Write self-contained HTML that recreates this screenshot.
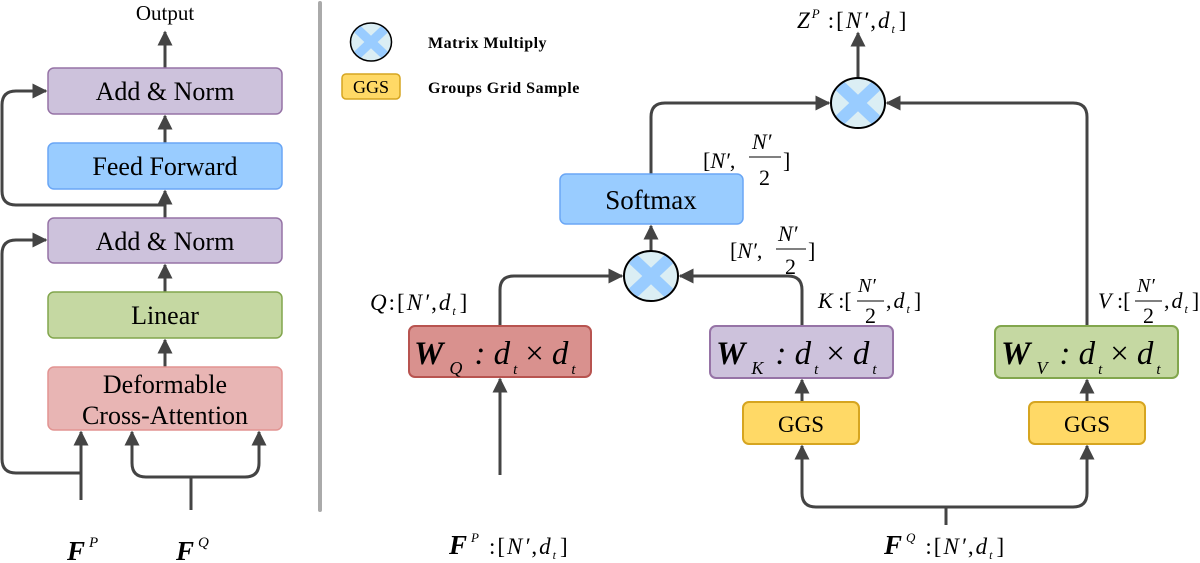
<!DOCTYPE html>
<html><head><meta charset="utf-8"><style>
html,body{margin:0;padding:0;background:#fff;width:1200px;height:563px;overflow:hidden}
text{font-family:"Liberation Serif",serif;fill:#000}
</style></head><body>
<svg width="1200" height="563" viewBox="0 0 1200 563" xmlns="http://www.w3.org/2000/svg">
<defs>
<marker id="a" viewBox="0 0 10 10" refX="9" refY="5" markerWidth="5" markerHeight="5" orient="auto" markerUnits="strokeWidth">
<path d="M0,0 L10,5 L0,10 z" fill="#444"/></marker>
<g id="mm">
<ellipse cx="0" cy="0" rx="27" ry="25" fill="#dbeef4"/>
<path d="M-18,-17 L18,17 M18,-17 L-18,17" stroke="#99ccff" stroke-width="12"/>
<ellipse cx="0" cy="0" rx="27" ry="25" fill="none" stroke="#000" stroke-width="2"/>
</g>
</defs>
<g fill="none" stroke="#444" stroke-width="3">
<path d="M165,68 V32" marker-end="url(#a)"/>
<path d="M165,143 V116" marker-end="url(#a)"/>
<path d="M165,218 V191" marker-end="url(#a)"/>
<path d="M165,292 V265" marker-end="url(#a)"/>
<path d="M165,367 V340" marker-end="url(#a)"/>
<path d="M165,205 H16 Q2,205 2,191 V105 Q2,91 16,91 H46" marker-end="url(#a)"/>
<path d="M81,473 H16 Q2,473 2,459 V254 Q2,240 16,240 H46" marker-end="url(#a)"/>
<path d="M81,500 V432" marker-end="url(#a)"/>
<path d="M191,510 V477 M191,477 H146 Q132,477 132,463 V432" marker-end="url(#a)"/>
<path d="M191,477 H245 Q259,477 259,463 V432" marker-end="url(#a)"/>
<path d="M858,78 V33" marker-end="url(#a)"/>
<path d="M651,174 V117 Q651,103 665,103 H829" marker-end="url(#a)"/>
<path d="M1087,326 V117 Q1087,103 1073,103 H887" marker-end="url(#a)"/>
<path d="M651,251 V226" marker-end="url(#a)"/>
<path d="M500,326 V290 Q500,276 514,276 H622" marker-end="url(#a)"/>
<path d="M802,326 V290 Q802,276 788,276 H680" marker-end="url(#a)"/>
<path d="M500,475 V379" marker-end="url(#a)"/>
<path d="M802,402 V380" marker-end="url(#a)"/>
<path d="M1087,402 V380" marker-end="url(#a)"/>
<path d="M946,525 V507 M946,507 H816 Q802,507 802,493 V446" marker-end="url(#a)"/>
<path d="M946,507 H1073 Q1087,507 1087,493 V446" marker-end="url(#a)"/>
</g>
<line x1="320" y1="3" x2="320" y2="510" stroke="#aaa" stroke-width="4" stroke-linecap="round"/>
<rect x="48" y="68" width="234" height="46" rx="6" fill="#cdc2dc" stroke="#9673a6" stroke-width="1.5"/>
<rect x="48" y="143" width="234" height="46" rx="6" fill="#99ccff" stroke="#6aa6f5" stroke-width="1.5"/>
<rect x="48" y="218" width="234" height="45" rx="6" fill="#cdc2dc" stroke="#9673a6" stroke-width="1.5"/>
<rect x="48" y="292" width="234" height="46" rx="6" fill="#c5d8a2" stroke="#82a64d" stroke-width="1.5"/>
<rect x="48" y="367" width="234" height="63" rx="6" fill="#e8b5b4" stroke="#e29492" stroke-width="1.5"/>
<g font-size="26" text-anchor="middle">
<text x="165" y="20" font-size="21">Output</text>
<text x="165" y="100">Add &amp; Norm</text>
<text x="165" y="175">Feed Forward</text>
<text x="165" y="250">Add &amp; Norm</text>
<text x="165" y="324">Linear</text>
<text x="165" y="393">Deformable</text>
<text x="165" y="424">Cross-Attention</text>
</g>
<text x="67" y="560" font-size="27" font-weight="bold" font-style="italic">F<tspan dy="-13" dx="4" font-size="15" font-weight="normal">P</tspan></text>
<text x="176" y="560" font-size="27" font-weight="bold" font-style="italic">F<tspan dy="-13" dx="4" font-size="15" font-weight="normal">Q</tspan></text>
<use href="#mm" transform="translate(371,42) scale(0.76)"/>
<rect x="342" y="74" width="58" height="25" rx="4" fill="#ffd966" stroke="#d6a520" stroke-width="1.5"/>
<text x="371" y="93" font-size="18" text-anchor="middle">GGS</text>
<text x="428" y="48" font-size="16" font-weight="bold" letter-spacing="0.5">Matrix Multiply</text>
<text x="428" y="93" font-size="16" font-weight="bold" letter-spacing="0.5">Groups Grid Sample</text>
<rect x="560" y="174" width="183" height="50" rx="6" fill="#99ccff" stroke="#6aa6f5" stroke-width="1.5"/>
<text x="651" y="209" font-size="27" text-anchor="middle">Softmax</text>
<rect x="409" y="326" width="182" height="51" rx="6" fill="#d9918e" stroke="#b85450" stroke-width="2"/>
<rect x="710" y="326" width="183" height="52" rx="6" fill="#cdc2dc" stroke="#9673a6" stroke-width="2"/>
<rect x="995" y="326" width="183" height="52" rx="6" fill="#c5d8a2" stroke="#82a64d" stroke-width="2"/>
<rect x="743" y="402" width="116" height="42" rx="6" fill="#ffd966" stroke="#d6a520" stroke-width="2"/>
<rect x="1029" y="402" width="116" height="42" rx="6" fill="#ffd966" stroke="#d6a520" stroke-width="2"/>
<text x="801" y="432" font-size="23" text-anchor="middle">GGS</text>
<text x="1087" y="432" font-size="23" text-anchor="middle">GGS</text>
<g font-size="33" font-style="italic">
<text x="414" y="364"><tspan font-weight="bold">W</tspan><tspan dy="10" dx="6" font-size="18">Q</tspan><tspan dy="-10" dx="12">: d</tspan><tspan dy="10" dx="3" font-size="15">t</tspan><tspan dy="-10" dx="8" font-style="normal">×</tspan><tspan dx="8">d</tspan><tspan dy="10" dx="3" font-size="15">t</tspan></text>
<text x="716" y="364"><tspan font-weight="bold">W</tspan><tspan dy="10" dx="6" font-size="18">K</tspan><tspan dy="-10" dx="12">: d</tspan><tspan dy="10" dx="3" font-size="15">t</tspan><tspan dy="-10" dx="8" font-style="normal">×</tspan><tspan dx="8">d</tspan><tspan dy="10" dx="3" font-size="15">t</tspan></text>
<text x="1001" y="364"><tspan font-weight="bold">W</tspan><tspan dy="10" dx="6" font-size="18">V</tspan><tspan dy="-10" dx="12">: d</tspan><tspan dy="10" dx="3" font-size="15">t</tspan><tspan dy="-10" dx="8" font-style="normal">×</tspan><tspan dx="8">d</tspan><tspan dy="10" dx="3" font-size="15">t</tspan></text>
</g>
<use href="#mm" transform="translate(651,276)"/>
<use href="#mm" transform="translate(858,103)"/>
<g font-size="23" letter-spacing="2">
<text x="797" y="28"><tspan font-style="italic">Z</tspan><tspan dy="-10" font-size="13" font-style="italic">P</tspan><tspan dy="10" dx="6">:[</tspan><tspan font-style="italic">N′</tspan>,<tspan font-style="italic">d</tspan><tspan dy="5" font-size="12" font-style="italic">t</tspan><tspan dy="-5" dx="2">]</tspan></text>
<text x="370" y="310"><tspan font-style="italic">Q</tspan>:[<tspan font-style="italic">N′</tspan>,<tspan font-style="italic">d</tspan><tspan dy="5" font-size="12" font-style="italic">t</tspan><tspan dy="-5" dx="2">]</tspan></text>
<text x="449" y="554"><tspan font-weight="bold" font-style="italic" font-size="27">F</tspan><tspan dy="-12" dx="2" font-size="13" font-style="italic">P</tspan><tspan dy="12" dx="8">:[</tspan><tspan font-style="italic">N′</tspan>,<tspan font-style="italic">d</tspan><tspan dy="5" font-size="12" font-style="italic">t</tspan><tspan dy="-5" dx="2">]</tspan></text>
<text x="884" y="554"><tspan font-weight="bold" font-style="italic" font-size="27">F</tspan><tspan dy="-12" dx="2" font-size="13" font-style="italic">Q</tspan><tspan dy="12" dx="8">:[</tspan><tspan font-style="italic">N′</tspan>,<tspan font-style="italic">d</tspan><tspan dy="5" font-size="12" font-style="italic">t</tspan><tspan dy="-5" dx="2">]</tspan></text>
</g>
<g font-size="22">
<text x="703" y="168">[<tspan font-style="italic">N′</tspan>,</text>
<text x="752" y="149" font-style="italic">N′</text><line x1="749" y1="157" x2="781" y2="157" stroke="#000" stroke-width="1"/><text x="759" y="185">2</text><text x="783" y="168">]</text>
<text x="730" y="258">[<tspan font-style="italic">N′</tspan>,</text>
<text x="778" y="241" font-style="italic">N′</text><line x1="776" y1="249" x2="806" y2="249" stroke="#000" stroke-width="1"/><text x="785" y="274">2</text><text x="808" y="258">]</text>
<text x="818" y="308"><tspan font-style="italic">K</tspan> :[</text>
<text x="858" y="292" font-style="italic" font-size="20">N′</text><line x1="857" y1="301" x2="884" y2="301" stroke="#000" stroke-width="1"/><text x="865" y="323">2</text><text x="886" y="308" letter-spacing="2">,<tspan font-style="italic">d</tspan><tspan dy="5" font-size="12" font-style="italic">t</tspan><tspan dy="-5" dx="2">]</tspan></text>
<text x="1098" y="308"><tspan font-style="italic">V</tspan> :[</text>
<text x="1137" y="292" font-style="italic" font-size="20">N′</text><line x1="1135" y1="301" x2="1162" y2="301" stroke="#000" stroke-width="1"/><text x="1143" y="323">2</text><text x="1164" y="308" letter-spacing="2">,<tspan font-style="italic">d</tspan><tspan dy="5" font-size="12" font-style="italic">t</tspan><tspan dy="-5" dx="2">]</tspan></text>
</g>
</svg>
</body></html>
